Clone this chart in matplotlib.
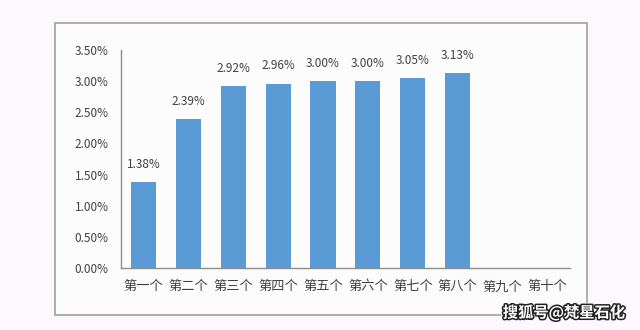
import matplotlib.pyplot as plt
import matplotlib.patheffects as pe
from matplotlib.patches import Rectangle
from matplotlib.ticker import FuncFormatter, MultipleLocator

plt.rcParams['font.family'] = ['Noto Sans CJK SC', 'DejaVu Sans']

# data
categories = ['第一个', '第二个', '第三个', '第四个', '第五个',
              '第六个', '第七个', '第八个', '第九个', '第十个']
values = [1.38, 2.39, 2.92, 2.96, 3.00, 3.00, 3.05, 3.13]  # percent
value_labels = ['1.38%', '2.39%', '2.92%', '2.96%', '3.00%', '3.00%', '3.05%', '3.13%']
watermark = '搜狐号@梵星石化'

bg = '#fdf8fd'
bar_color = '#5b9bd5'
axis_color = '#8c8c8c'
text_color = '#404040'

fig = plt.figure(figsize=(6.4, 3.3), dpi=100, facecolor=bg)

# chart area box
fig.patches.append(Rectangle((0.0859, 0.0455), 0.8313, 0.8848, transform=fig.transFigure,
                             facecolor='#fcfcfc', edgecolor='#a0a0a0', linewidth=1.2, zorder=0))

ax = fig.add_axes([0.189, 0.188, 0.7016, 0.6606])
ax.set_facecolor('none')
ax.set_zorder(2)

x = list(range(len(categories)))
bars = ax.bar(x[:len(values)], values, width=0.56, color=bar_color, zorder=2)

for rect, lab in zip(bars, value_labels):
    ax.annotate(lab, (rect.get_x() + rect.get_width() / 2, rect.get_height()),
                xytext=(0, 8), textcoords='offset points', ha='center', va='bottom',
                fontsize=8.5, color=text_color)

ax.set_xlim(-0.5, len(categories) - 0.5)
ax.set_ylim(0, 3.5)
ax.yaxis.set_major_locator(MultipleLocator(0.5))
ax.yaxis.set_major_formatter(FuncFormatter(lambda v, p: f'{v:.2f}%'))
ax.set_xticks(x)
ax.set_xticklabels(categories)

for s in ['top', 'right']:
    ax.spines[s].set_visible(False)
for s in ['left', 'bottom']:
    ax.spines[s].set_color(axis_color)
    ax.spines[s].set_linewidth(1.0)
ax.tick_params(axis='both', length=0, labelsize=8.5, colors=text_color)
ax.tick_params(axis='y', pad=9)
ax.tick_params(axis='x', pad=9, labelsize=9.5)

fig.text(0.881, 0.052, watermark, ha='center', va='center', fontsize=11, fontweight='bold',
         color='white', zorder=5,
         path_effects=[pe.withStroke(linewidth=2.2, foreground='#222222')],
         bbox=dict(facecolor=bg, edgecolor='none', pad=1))

fig.savefig('out.png', dpi=100, facecolor=bg)
